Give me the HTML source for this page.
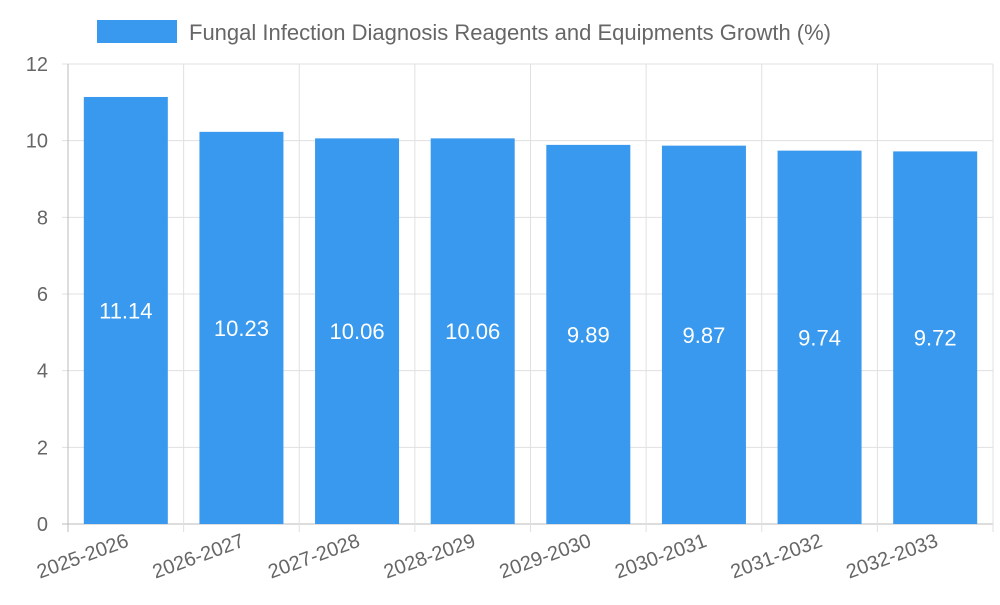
<!DOCTYPE html>
<html><head><meta charset="utf-8"><style>
body{margin:0;background:#fff;}
svg{font-family:"Liberation Sans",sans-serif;}
</style></head><body>
<svg width="1000" height="600" xmlns="http://www.w3.org/2000/svg">
<g>
<rect x="97" y="20" width="80" height="23" fill="#3899ee"/>
<text x="189" y="40" font-size="22" fill="#666">Fungal Infection Diagnosis Reagents and Equipments Growth (%)</text>
</g>
<g id="grid"></g><g id="bars"></g><g id="labels"></g>
</svg>
<script>
const categories=["2025-2026","2026-2027","2027-2028","2028-2029","2029-2030","2030-2031","2031-2032","2032-2033"];
const values=[11.14,10.23,10.06,10.06,9.89,9.87,9.74,9.72];
const yTicks=[0,2,4,6,8,10,12];
const NS="http://www.w3.org/2000/svg";
const L=68,R=993,T=64,B=524,ymax=12;
const y=v=>B-(v/ymax)*(B-T);
const bw=(R-L)/categories.length;
const x=i=>L+bw*i;
function mk(t,a,p){const e=document.createElementNS(NS,t);for(const k in a)e.setAttribute(k,a[k]);p.appendChild(e);return e;}
const g=document.getElementById('grid'),bg=document.getElementById('bars'),lg=document.getElementById('labels');
yTicks.forEach(v=>{
 const ln=mk('line',{x1:L-6,x2:R,y1:y(v),y2:y(v),stroke:v===0?'#bbb':'#e0e0e0','stroke-width':1},g);
 
 
 const t=mk('text',{x:L-20,y:y(v)+7,'text-anchor':'end','font-size':20,fill:'#666'},g);
 t.textContent=v;
 
 
});
for(let i=0;i<=categories.length;i++){
 const ln=mk('line',{x1:x(i),x2:x(i),y1:T,y2:B+8,stroke:i===0?'#bbb':'#e0e0e0','stroke-width':1},g);
 
 
}
categories.forEach((c,i)=>{
 const cx=x(i)+bw/2, w=84;
 const r=mk('rect',{x:cx-w/2,y:y(values[i]),width:w,height:B-y(values[i]),fill:'#3899ee'},bg);
 
 
 const t=mk('text',{x:cx,y:(y(values[i])+B)/2+8,'text-anchor':'middle','font-size':22,fill:'#fff'},lg);
 t.textContent=values[i].toFixed(2);
 
 
 const xl=mk('text',{x:0,y:0,'text-anchor':'end','font-size':20,fill:'#666',transform:`translate(${cx+4},${B+22}) rotate(-20)`},lg);
 xl.textContent=c;
 
 
});
</script>
</body></html>
